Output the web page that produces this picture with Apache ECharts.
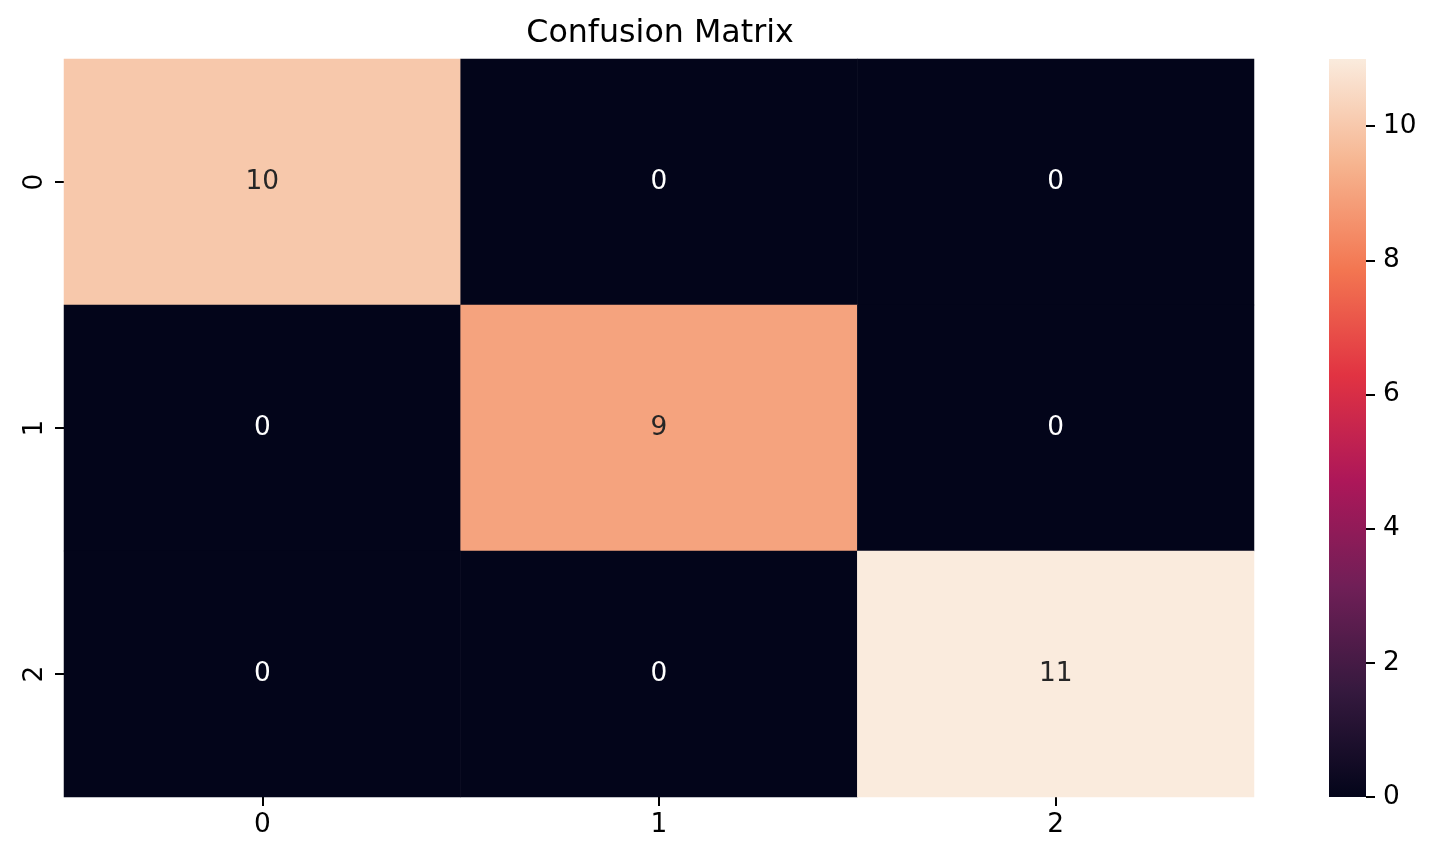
<!DOCTYPE html>
<html>
<head>
<meta charset="utf-8">
<script src="https://cdn.jsdelivr.net/npm/echarts@6/dist/echarts.min.js"></script>
<style>html,body{margin:0;padding:0;background:#fff}#c{width:1437px;height:862px}</style>
</head>
<body>
<div id="c"></div>
<script>
const xCategories = ['0', '1', '2'];
const yCategories = ['0', '1', '2'];
// rows = actual (y), cols = predicted (x)
const matrixRows = [
  [10, 0, 0],
  [0, 9, 0],
  [0, 0, 11]
];
const colorMin = 0;
const colorMax = 11;
const colorbarTickStep = 2;
const rocketStops = ['#03051A', '#35193E', '#701F57', '#AD1759', '#E13342', '#F37651', '#F6B48F', '#FAEBDD'];

const font = 'DejaVu Sans';
const tickFont = 26.4;
const data = [];
matrixRows.forEach((row, yi) => {
  row.forEach((v, xi) => {
    data.push({
      value: [xi, yi, v],
      label: { color: v / colorMax > 0.6 ? '#262626' : '#ffffff' }
    });
  });
});

const gradientStops = rocketStops.map((c, i) => ({ offset: i / (rocketStops.length - 1), color: c }));
const tickStyle = { show: true, length: 9, lineStyle: { color: '#000', width: 2 } };

const chart = echarts.init(document.getElementById('c'));
chart.setOption({
  animation: false,
  backgroundColor: '#ffffff',
  title: {
    text: 'Confusion Matrix',
    left: 655,
    top: 13,
    textAlign: 'center',
    textStyle: { fontFamily: font, fontSize: 31.7, fontWeight: 'normal', color: '#000' }
  },
  grid: [
    { left: 64, right: 183, top: 59, bottom: 65 },
    { left: 1329, width: 37, top: 59, bottom: 65 }
  ],
  xAxis: [
    {
      type: 'category', data: xCategories, gridIndex: 0,
      splitArea: { show: false },
      axisLine: { show: false },
      axisTick: Object.assign({ alignWithLabel: true }, tickStyle),
      axisLabel: { fontFamily: font, fontSize: tickFont, color: '#000', margin: 15 }
    },
    { type: 'category', data: ['cb'], gridIndex: 1, show: false }
  ],
  yAxis: [
    {
      type: 'category', data: yCategories, gridIndex: 0, inverse: true,
      axisLine: { show: false },
      axisTick: Object.assign({ alignWithLabel: true }, tickStyle),
      axisLabel: { fontFamily: font, fontSize: tickFont, color: '#000', rotate: 90, margin: 16 }
    },
    {
      type: 'value', gridIndex: 1, position: 'right',
      min: colorMin, max: colorMax, interval: colorbarTickStep,
      splitLine: { show: false },
      axisLine: { show: false },
      axisTick: tickStyle,
      axisLabel: { fontFamily: font, fontSize: tickFont, color: '#000', margin: 17, showMaxLabel: false }
    }
  ],
  visualMap: {
    show: false,
    type: 'continuous',
    min: colorMin, max: colorMax,
    seriesIndex: 0,
    inRange: { color: rocketStops }
  },
  series: [
    {
      type: 'heatmap',
      xAxisIndex: 0, yAxisIndex: 0,
      data: data,
      label: { show: true, fontFamily: font, fontSize: tickFont, formatter: p => p.value[2] },
      itemStyle: { borderWidth: 0 },
      emphasis: { disabled: true }
    },
    {
      type: 'bar',
      xAxisIndex: 1, yAxisIndex: 1,
      data: [colorMax],
      barWidth: '100%',
      silent: true,
      itemStyle: { color: new echarts.graphic.LinearGradient(0, 1, 0, 0, gradientStops) }
    }
  ]
});
</script>
</body>
</html>
